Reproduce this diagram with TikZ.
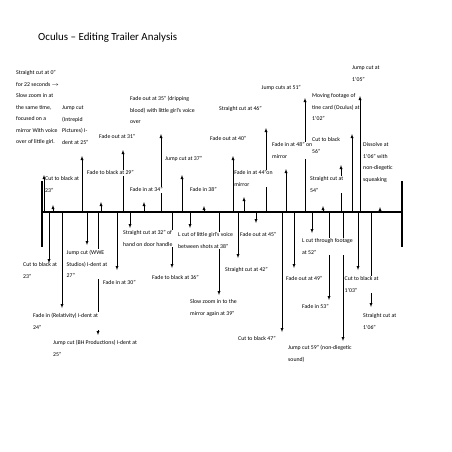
\documentclass[tikz,border=0pt]{standalone}
\usepackage{fontspec}
\setmainfont{Carlito}
\usetikzlibrary{arrows}

\newcommand{\lblsize}{\fontsize{5.8}{11.5}\selectfont}

\begin{document}
\begin{tikzpicture}[x=1pt,y=-1pt,
    lbl/.style={font=\lblsize, align=left, anchor=base west,
      inner xsep=0.5pt, inner ysep=1pt, fill=white},
    arr/.style={-latex, line width=0.4pt},
    bar/.style={line width=2.2pt}]

        \pgfmathsetmacro{\lineY}{212}
        \useasboundingbox (0,0) rectangle (452,452);

        \node[font=\fontsize{10.9}{13}\selectfont, anchor=base west, inner sep=0pt]
        (title) at (38,40.5) {Oculus -- Editing Trailer Analysis};

        % arrows going up from the line
        \foreach \x/\y [count=\i] in
        {44/175, 53/205, 82/156, 101/202, 123/150, 144/202, 161/134,
         182/175, 204/206, 233/156, 244/197, 266/128, 286/169, 305/98,
         323/206, 341/165, 352/134, 380/207}
        {
          \coordinate (ua\i) at (\x,\lineY);
          \coordinate (ub\i) at (\x,\y);
          \draw[arr] (ua\i) -- (ub\i);
        }

        % arrows going down from the line
        \foreach \x/\y [count=\i] in
        {62/308, 87/245, 98/335, 117/270, 130/228, 172/268, 190/228,
         219/295, 238/258, 256/223, 282/332, 294/268, 312/233, 329/300,
         343/341, 358/270, 371/307}
        {
          \coordinate (da\i) at (\x,\lineY);
          \coordinate (db\i) at (\x,\y);
          \draw[arr] (da\i) -- (db\i);
        }

        % labels above (base = last line)
        \node[lbl] (s0) at (15.5,143.7) {Straight cut at 0"\\for 22 seconds $\rightarrow$\\Slow zoom in at\\the same time,\\focused on a\\mirror With voice\\over of little girl.};
        \node[lbl] (j25) at (61.5,144.2) {Jump cut\\(Intrepid\\Pictures) I-\\dent at 25"};
        \node[lbl] (f31) at (98.5,138.7) {Fade out at 31"};
        \node[lbl] (f29) at (86.5,174.7) {Fade to black at 29"};
        \node[lbl] (c23a) at (44.5,192.2) {Cut to black at\\23"};
        \node[lbl] (f35) at (129.5,123.7) {Fade out at 35" (dripping\\blood) with little girl's voice\\over};
        \node[lbl] (f34) at (129.5,191.7) {Fade in at 34"};
        \node[lbl] (j37) at (164.5,160.7) {Jump cut at 37"};
        \node[lbl] (f38) at (189.5,191.7) {Fade in 38"};
        \node[lbl] (f40) at (209.5,140.7) {Fade out at 40"};
        \node[lbl] (f44) at (233.7,186.2) {Fade in at 44"on\\mirror};
        \node[lbl] (s46) at (218.5,110.7) {Straight cut at 46"};
        \node[lbl] (j51) at (261,89.7) {Jump cuts at 51"};
        \node[lbl] (f48) at (271.5,158.2) {Fade in at 48" on\\mirror};
        \node[lbl] (c56) at (311.5,153.2) {Cut to black\\56"};
        \node[lbl] (s54) at (309.5,192.2) {Straight cut at\\54"};
        \node[lbl] (m102) at (311.5,120.7) {Moving footage of\\tine card (Oculus) at\\1'02"};
        \node[lbl] (j105) at (351.5,81.2) {Jump cut at\\1'05"};
        \node[lbl] (d106) at (362.5,181.2) {Dissolve at\\1'06" with\\non-diegetic\\squeaking};

        % labels below
        \node[lbl] (s32) at (122.5,246.2) {Straight cut at 32" of\\hand on door handle};
        \node[lbl] (l38) at (177.5,248.2) {L cut of little girl's voice\\between shots at 38"};
        \node[lbl] (f45) at (239.5,236.7) {Fade out at 45"};
        \node[lbl] (l52) at (301.5,254.2) {L cut through footage\\at 52"};
        \node[lbl] (j27) at (66,277.7) {Jump cut (WWE\\Studios) I-dent at\\27"};
        \node[lbl] (c23b) at (22.5,278.2) {Cut to black at\\23"};
        \node[lbl] (s42) at (224.5,271.7) {Straight cut at 42"};
        \node[lbl] (f36) at (151.5,279.7) {Fade to black at 36"};
        \node[lbl] (f49) at (285.5,280.7) {Fade out at 49"};
        \node[lbl] (c103) at (344,292.2) {Cut to black at\\1'03"};
        \node[lbl] (f30) at (102.5,284.7) {Fade in at 30"};
        \node[lbl] (z39) at (189.5,315.2) {Slow zoom in to the\\mirror again at 39"};
        \node[lbl] (f53) at (301.5,308.7) {Fade in 53"};
        \node[lbl] (f24) at (32.5,329.2) {Fade in (Relativity) I-dent at\\24"};
        \node[lbl] (s106) at (362.5,329.2) {Straight cut at\\1'06"};
        \node[lbl] (c47) at (237.5,340.7) {Cut to black 47"};
        \node[lbl] (j25b) at (52.5,356.2) {Jump cut (BH Productions) I-dent at\\25"};
        \node[lbl] (j59) at (287.5,361.2) {Jump cut 59" (non-diegetic\\sound)};

        % two arrows that lie over their labels
        \coordinate (fa1) at (49,\lineY);
        \coordinate (fb1) at (49,263);
        \coordinate (fa2) at (360,\lineY);
        \coordinate (fb2) at (360,96);
        \draw[arr] (fa1) -- (fb1);
        \draw[arr] (fa2) -- (fb2);

        % the time line
        \coordinate (start) at (42,\lineY);
        \coordinate (end) at (402,\lineY);
        \coordinate (sa) at (42,181);
        \coordinate (sb) at (42,247);
        \coordinate (ea) at (402,181);
        \coordinate (eb) at (402,247);
        \draw[line width=2.6pt] (start) -- (end);
        \draw[bar] (sa) -- (sb);
        \draw[bar] (ea) -- (eb);
      \end{tikzpicture}
\end{document}
